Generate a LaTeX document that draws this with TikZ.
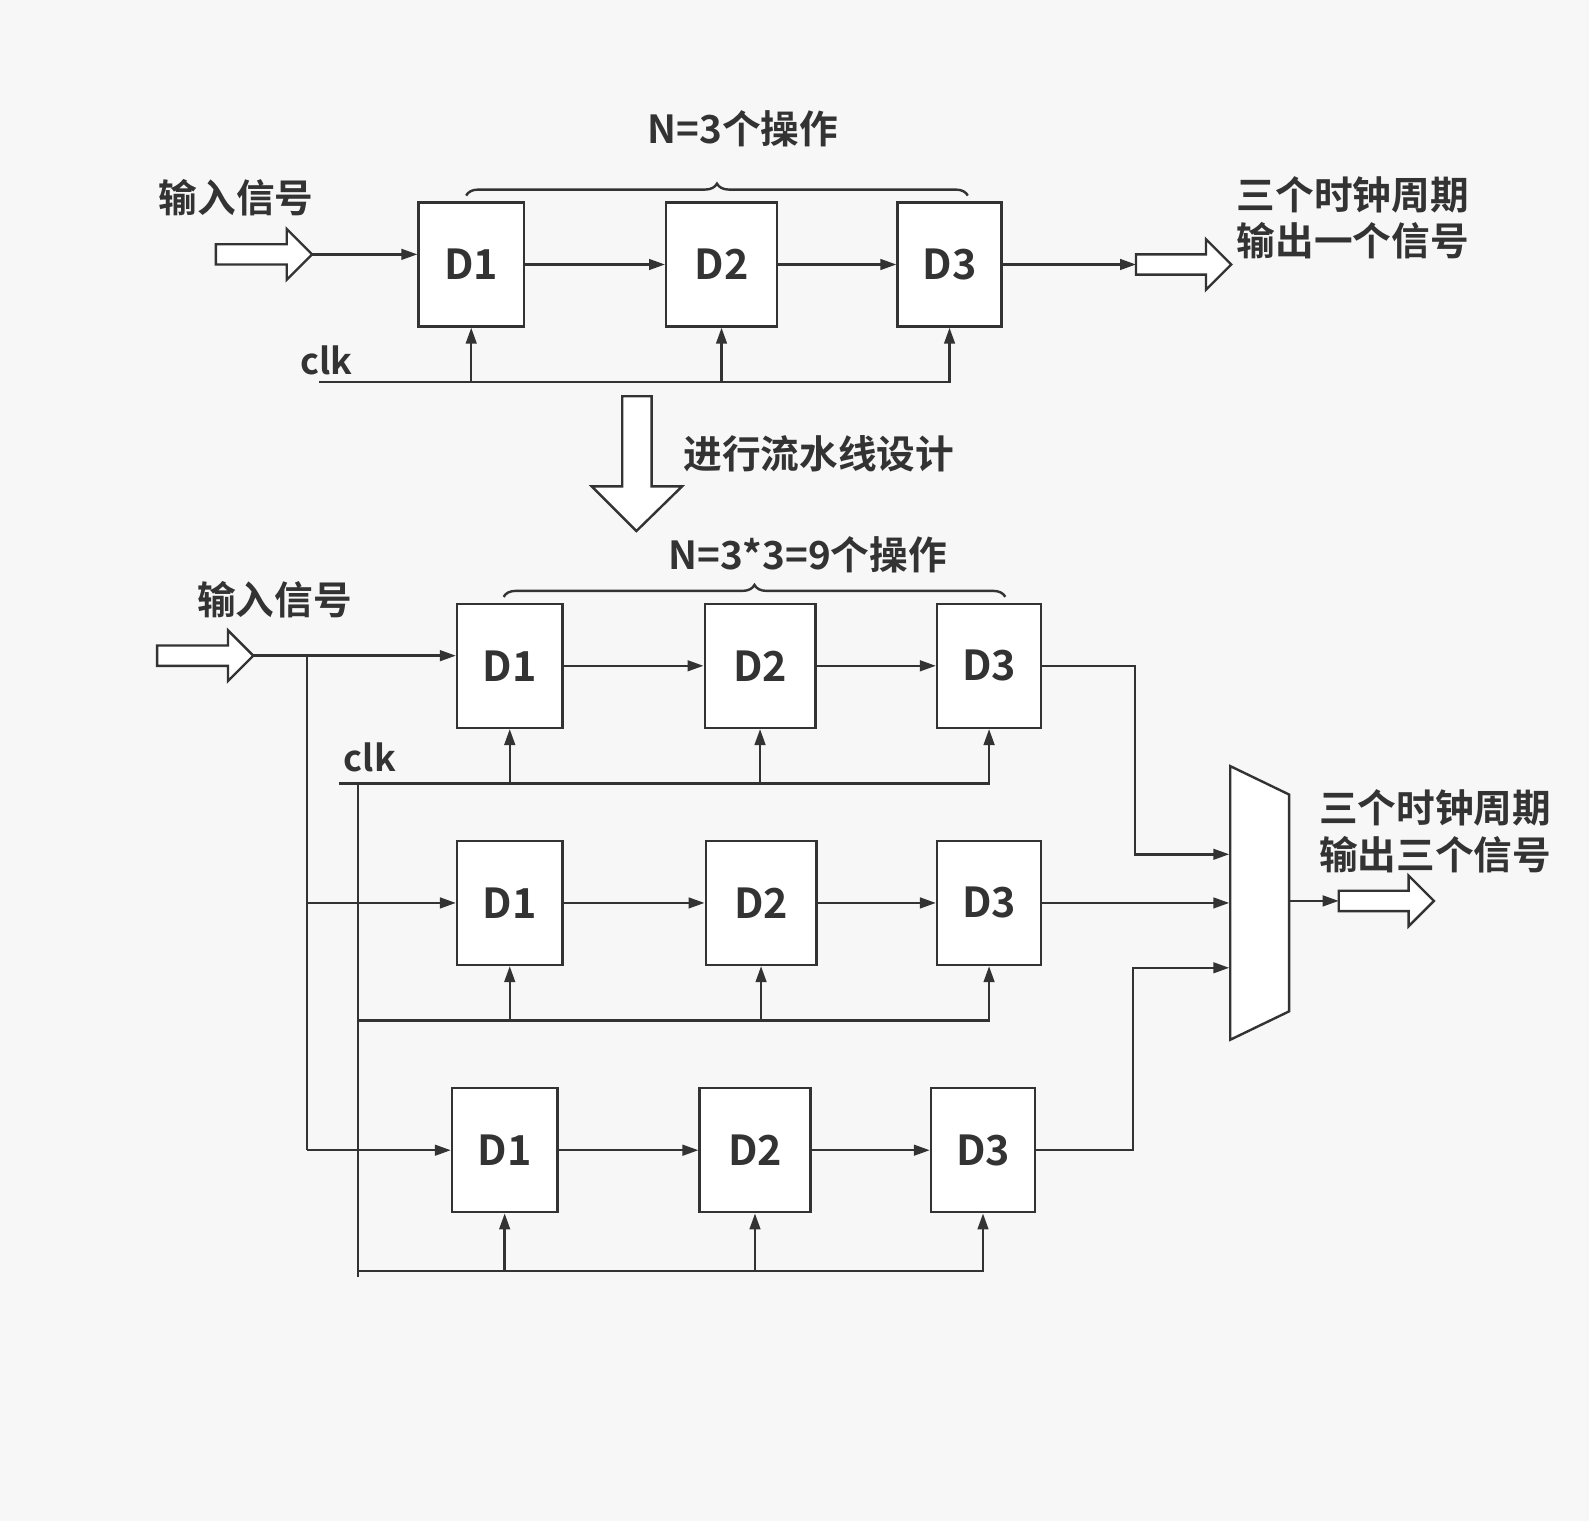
\documentclass[tikz,border=0pt]{standalone}
\usepackage{fontspec}
\setmainfont{Noto Sans CJK SC}[BoldFont={* Bold}]
\usetikzlibrary{arrows.meta,decorations.pathreplacing}
\definecolor{ln}{HTML}{333333}
\begin{document}
\begin{tikzpicture}[x=0.76pt,y=-0.76pt,
  line width=1.8pt, draw=ln,
  arr/.style={-{Triangle[length=12pt,width=8pt]}},
  box/.style={draw=ln,line width=1.8pt,fill=white,inner sep=0pt,font=\bfseries\fontsize{31}{31}\selectfont,text=ln},
  lab/.style={font=\bfseries\fontsize{29}{35}\selectfont,text=ln,align=left},
  hollow/.style={draw=ln,line width=1.8pt,fill=white}]
\useasboundingbox (0,0) rectangle (1568,1501);
\path[fill=white!97!black] (0,0) rectangle (1568,1501);
% ---------- top
\node[lab] (nt) at (733,127) {N=3个操作};
\draw[decorate,decoration={brace,amplitude=9pt}] (460,193) -- (955,193);
\node[lab] (in1) at (233,195) {输入信号};
\draw[hollow] (213,241)--(283,241)--(283,226)--(308,251)--(283,276)--(283,261)--(213,261)--cycle;
\coordinate (ia) at (308,251);
\node[box,minimum width=79pt,minimum height=93pt] (a1) at (465,261) {D1};
\node[box,minimum width=83pt,minimum height=93pt] (a2) at (712,261) {D2};
\node[box,minimum width=78pt,minimum height=93pt] (a3) at (937,261) {D3};
\draw[arr] (ia) -- (a1.west|-ia);
\draw[arr] (a1) -- (a2);
\draw[arr] (a2) -- (a3);
\coordinate (ao) at (1121,261);
\draw[arr] (a3) -- (ao);
\draw[hollow] (1121,251)--(1190,251)--(1190,236)--(1215,261)--(1190,286)--(1190,271)--(1121,271)--cycle;
\node[lab,anchor=west] (out1) at (1215,215) {三个时钟周期\\输出一个信号};
\node[lab,font=\bfseries\fontsize{27}{27}\selectfont] (clk1) at (322,356) {clk};
\coordinate (c1s) at (315,377); \coordinate (c1e) at (938,377);
\draw (c1s) -- (c1e);
\foreach \b in {a1,a2,a3} \draw[arr] (\b.south|-c1s) -- (\b.south);
% ---------- down arrow
\draw[hollow] (614,391)--(643,391)--(643,480)--(673,480)--(628,524)--(584,480)--(614,480)--cycle;
\node[lab] (pl) at (808,448) {进行流水线设计};
% ---------- bottom
\node[lab] (nb) at (797,547) {N=3*3=9个操作};
\draw[decorate,decoration={brace,amplitude=9pt}] (497,589) -- (992,589);
\node[lab] (in2) at (271,592) {输入信号};
\draw[hollow] (155,637)--(225,637)--(225,622)--(250,647)--(225,672)--(225,657)--(155,657)--cycle;
\coordinate (ib) at (250,647);
% row1
\node[box,minimum width=79pt,minimum height=93pt] (b1) at (503,657) {D1};
\node[box,minimum width=83pt,minimum height=93pt] (b2) at (750,657) {D2};
\node[box,minimum width=78pt,minimum height=93pt] (b3) at (976,657) {D3};
% row2
\node[box,minimum width=79pt,minimum height=93pt] (c1) at (503,891) {D1};
\node[box,minimum width=83pt,minimum height=93pt] (c2) at (751,891) {D2};
\node[box,minimum width=78pt,minimum height=93pt] (c3) at (976,891) {D3};
% row3
\node[box,minimum width=79pt,minimum height=93pt] (d1) at (498,1135) {D1};
\node[box,minimum width=83pt,minimum height=93pt] (d2) at (745,1135) {D2};
\node[box,minimum width=78pt,minimum height=93pt] (d3) at (970,1135) {D3};
\draw[arr] (ib) -- (b1.west|-ib);
\coordinate (sp) at (303,647);
\draw (sp) -- (303,1135);
\draw[arr] (303,891) -- (c1.west);
\draw[arr] (303,1135) -- (d1.west);
\foreach \r in {b,c,d}{\draw[arr] (\r1) -- (\r2); \draw[arr] (\r2) -- (\r3);}
% mux
\draw[hollow] (1214,756)--(1272,784)--(1272,998)--(1214,1026)--cycle;
\coordinate (m1) at (1213,843); \coordinate (m2) at (1213,891); \coordinate (m3) at (1213,955);
\draw[arr] (b3.east) -- (1120,657) -- (1120,843) -- (m1);
\draw[arr] (c3.east) -- (m2);
\draw[arr] (d3.east) -- (1118,1135) -- (1118,955) -- (m3);
\coordinate (mo) at (1321,889);
\draw[arr] (1272,889) -- (mo);
\draw[hollow] (1321,879)--(1390,879)--(1390,864)--(1415,889)--(1390,914)--(1390,899)--(1321,899)--cycle;
\node[lab,anchor=west] (out2) at (1296,820) {三个时钟周期\\输出三个信号};
% clocks
\node[lab,font=\bfseries\fontsize{27}{27}\selectfont] (clk2) at (365,747) {clk};
\draw (335,773) -- (977,773);
\draw (353,773) -- (353,1260);
\draw (353,1007) -- (977,1007);
\draw (353,1254) -- (971,1254);
\foreach \b in {b1,b2,b3} \draw[arr] (\b.south|-0,773) -- (\b.south);
\foreach \b in {c1,c2,c3} \draw[arr] (\b.south|-0,1007) -- (\b.south);
\foreach \b in {d1,d2,d3} \draw[arr] (\b.south|-0,1254) -- (\b.south);
\end{tikzpicture}
\end{document}
